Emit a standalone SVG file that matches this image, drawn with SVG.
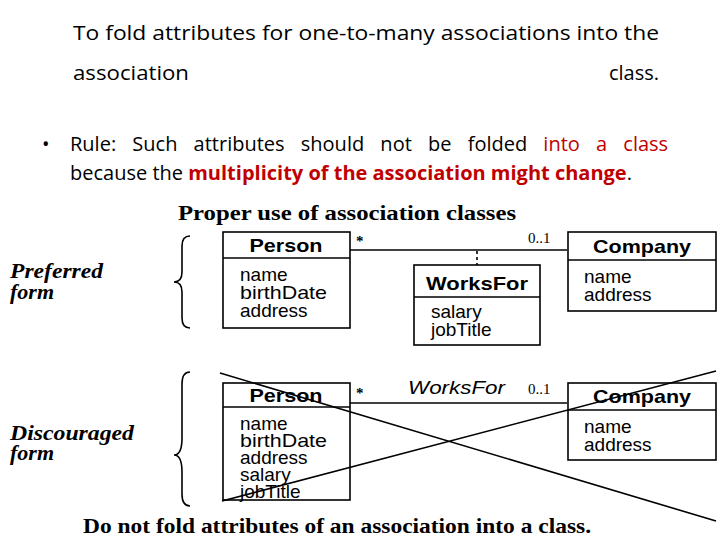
<svg xmlns="http://www.w3.org/2000/svg" width="720" height="540" viewBox="0 0 720 540">
<style>
.h{font-family:"Open Sans","Liberation Sans",sans-serif;font-size:20px;fill:#000}
.r{fill:#c00000}
.b{fill:#fff;stroke:#000;stroke-width:1.6}
.l{stroke:#000;stroke-width:1.6;fill:none}
.t{font-family:"Liberation Sans",Arial,sans-serif;font-weight:bold;font-size:19px}
.a{font-family:"Liberation Sans",Arial,sans-serif;font-size:19px}
.s{font-family:"Liberation Serif",serif;font-weight:bold;font-size:22px}
.f{font-family:"Liberation Serif",serif;font-weight:bold;font-style:italic;font-size:22px}
.m{font-family:"Liberation Serif",serif;font-size:15px}
</style>
<rect width="720" height="540" fill="#fff"/>
<text class="h" x="73" y="40" textLength="586" lengthAdjust="spacingAndGlyphs">To fold attributes for one-to-many associations into the</text>
<text class="h" x="73" y="80" textLength="116" lengthAdjust="spacingAndGlyphs">association</text>
<text class="h" x="659" y="80" text-anchor="end">class.</text>
<text class="h" x="42" y="151">•</text>
<text class="h" x="70" y="151" word-spacing="11">Rule: Such attributes should not be folded <tspan class="r">into a class</tspan></text>
<text class="h" x="70" y="180">because the <tspan class="r" font-weight="bold">multiplicity of the association might change</tspan>.</text>
<text class="s" x="178" y="220" textLength="338" lengthAdjust="spacingAndGlyphs">Proper use of association classes</text>
<text class="f" x="10" y="278" textLength="93" lengthAdjust="spacingAndGlyphs">Preferred</text>
<text class="f" x="10" y="299">form</text>
<text class="f" x="10" y="440" textLength="124" lengthAdjust="spacingAndGlyphs">Discouraged</text>
<text class="f" x="10" y="460">form</text>
<g id="connectors">
<path class="l" d="M350 250H567"/>
<path class="l" d="M477 251V265" stroke-dasharray="3 3"/>
<path class="l" d="M350 403H567"/>
<path class="l" d="M190 236q-8 0-8 10v26q0 10-8 10q8 0 8 10v26q0 10 8 10"/>
<path class="l" d="M190 372q-8 0-8 12v54q0 17-8 17q8 0 8 17v22q0 12 8 12"/>
</g>
<text class="m" x="356" y="246" font-weight="bold" font-size="20">*</text>
<text class="m" x="528" y="243">0..1</text>
<text class="m" x="356" y="398" font-weight="bold" font-size="20">*</text>
<text class="m" x="528" y="394">0..1</text>
<text class="a" x="408" y="394" font-style="italic" textLength="97" lengthAdjust="spacingAndGlyphs">WorksFor</text>
<g id="person1"><rect class="b" x="223" y="232" width="127" height="96"/><path class="l" d="M223 258H350"/>
<text class="t" x="286" y="252" text-anchor="middle" textLength="73" lengthAdjust="spacingAndGlyphs">Person</text>
<text class="a" x="240" y="281">name</text><text class="a" x="240" y="299" textLength="87" lengthAdjust="spacingAndGlyphs">birthDate</text><text class="a" x="240" y="317">address</text></g>
<g id="worksfor"><rect class="b" x="414" y="265" width="126" height="80"/><path class="l" d="M414 297H540"/>
<text class="t" x="477" y="290" text-anchor="middle" textLength="102" lengthAdjust="spacingAndGlyphs">WorksFor</text>
<text class="a" x="431" y="318">salary</text><text class="a" x="431" y="336">jobTitle</text></g>
<g id="company1"><rect class="b" x="568" y="232" width="148" height="79"/><path class="l" d="M568 260H716"/>
<text class="t" x="642" y="253" text-anchor="middle" textLength="98" lengthAdjust="spacingAndGlyphs">Company</text>
<text class="a" x="584" y="283">name</text><text class="a" x="584" y="301">address</text></g>
<g id="person2"><rect class="b" x="223" y="383" width="127" height="117"/><path class="l" d="M223 407H350"/>
<text class="t" x="286" y="402" text-anchor="middle" textLength="73" lengthAdjust="spacingAndGlyphs">Person</text>
<text class="a" x="240" y="430" font-size="18">name</text><text class="a" x="240" y="447" font-size="18" textLength="87" lengthAdjust="spacingAndGlyphs">birthDate</text><text class="a" x="240" y="464" font-size="18">address</text><text class="a" x="240" y="481" font-size="18">salary</text><text class="a" x="240" y="498" font-size="18">jobTitle</text></g>
<g id="company2"><rect class="b" x="568" y="383" width="148" height="77"/><path class="l" d="M568 410H716"/>
<text class="t" x="642" y="403" text-anchor="middle" textLength="98" lengthAdjust="spacingAndGlyphs">Company</text>
<text class="a" x="584" y="433">name</text><text class="a" x="584" y="451">address</text></g>
<g id="cross"><path class="l" d="M220 373L716 521M222 501L716 371" stroke-width="2"/></g>
<text class="s" x="83" y="533" textLength="508" lengthAdjust="spacingAndGlyphs">Do not fold attributes of an association into a class.</text>
</svg>
